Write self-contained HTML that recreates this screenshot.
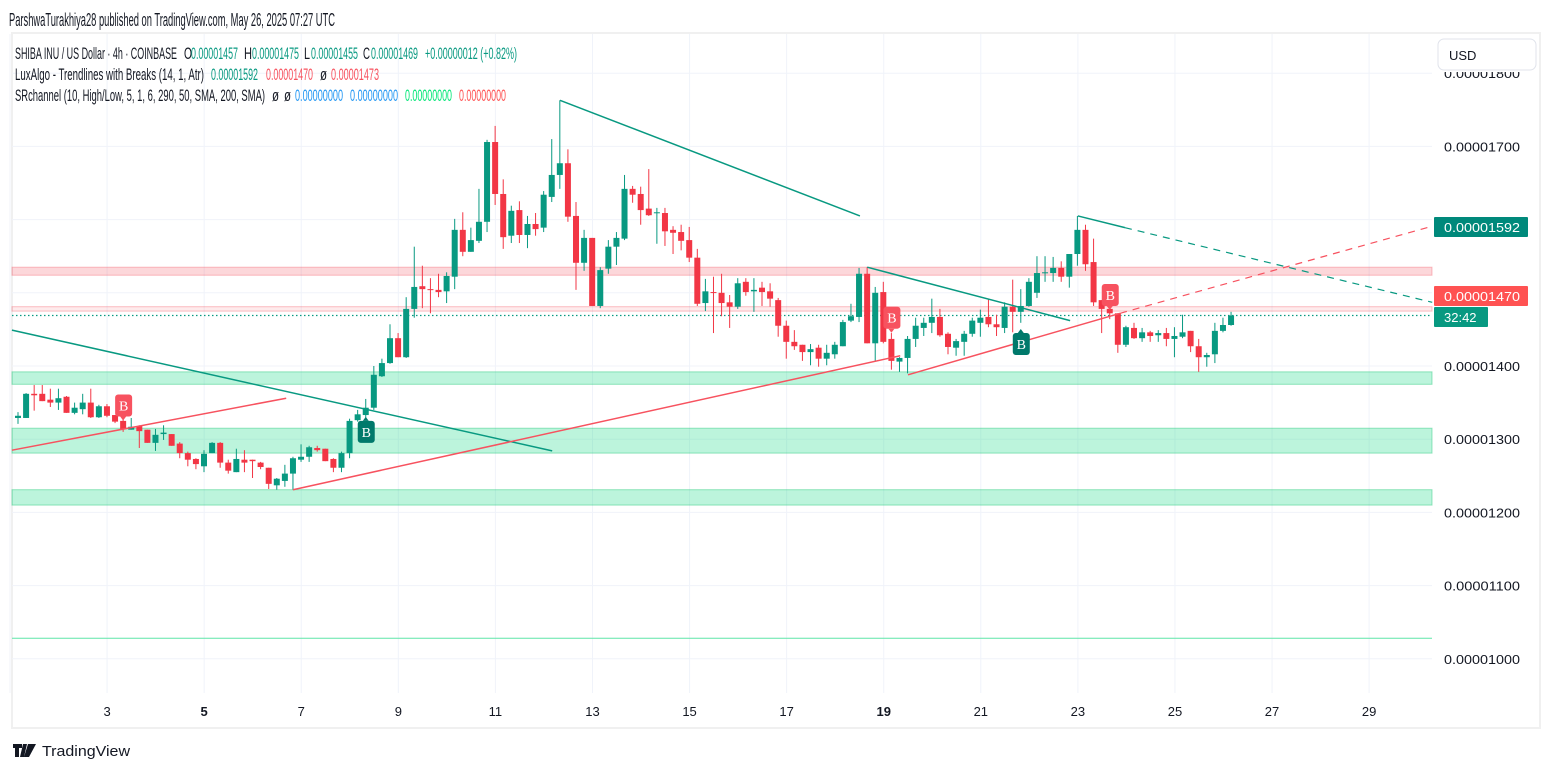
<!DOCTYPE html>
<html><head><meta charset="utf-8">
<style>
html,body{margin:0;padding:0;background:#fff;width:1553px;height:772px;overflow:hidden;font-family:"Liberation Sans",sans-serif;}
svg{display:block}
</style></head>
<body>
<svg id="chart" width="1553" height="772" xmlns="http://www.w3.org/2000/svg">
  <rect x="12" y="33" width="1528" height="695" fill="#fff" stroke="#f0f0f0" stroke-width="2"/>
  <g id="grid"></g>
  <g id="zones"></g>
  <g id="candles"></g>
  <g id="trend"></g>
  <g id="marks"></g>
  <g id="axis"></g>
  <g id="texts"></g>
</svg>
<script>
// ---- data (prices in 1e-8 USD) ----
const opens=[1329,1329,1362,1362,1354,1350,1358,1336,1341,1350,1330,1345,1333,1325,1313,1318,1313,1295,1307,1307,1294,1281,1273,1263,1281,1295,1268,1255,1272,1272,1268,1261,1237,1243,1253,1272,1276,1288,1287,1273,1261,1281,1326,1333,1343,1386,1404,1438,1412,1478,1509,1505,1504,1502,1522,1586,1556,1571,1597,1706,1635,1578,1613,1579,1594,1589,1631,1661,1677,1605,1541,1575,1482,1533,1563,1574,1642,1635,1615,1609,1609,1586,1583,1572,1548,1486,1501,1500,1487,1481,1515,1502,1507,1502,1490,1455,1433,1429,1419,1425,1410,1416,1427,1462,1467,1526,1431,1501,1437,1406,1411,1437,1452,1459,1467,1444,1425,1433,1444,1459,1467,1457,1452,1481,1474,1482,1500,1527,1527,1534,1522,1553,1586,1542,1490,1478,1472,1429,1452,1438,1446,1442,1445,1437,1440,1448,1427,1412,1416,1448,1456];
const highs=[1337,1363,1374,1374,1369,1369,1359,1350,1362,1369,1347,1348,1333,1330,1329,1319,1313,1314,1319,1307,1296,1283,1274,1285,1296,1296,1272,1287,1285,1272,1269,1261,1247,1265,1276,1293,1291,1291,1287,1274,1283,1328,1340,1355,1400,1410,1457,1445,1494,1563,1537,1520,1526,1528,1601,1610,1589,1642,1709,1728,1655,1619,1625,1605,1609,1639,1710,1763,1696,1624,1586,1575,1535,1572,1583,1661,1646,1645,1669,1616,1616,1591,1593,1590,1560,1519,1522,1526,1497,1520,1520,1520,1515,1513,1493,1462,1449,1429,1430,1429,1429,1433,1463,1485,1534,1535,1508,1515,1445,1412,1441,1466,1466,1492,1478,1446,1437,1448,1466,1477,1492,1470,1487,1518,1505,1520,1550,1550,1549,1543,1553,1605,1593,1574,1490,1478,1472,1455,1459,1452,1448,1449,1452,1453,1470,1448,1437,1418,1459,1466,1474];
const lows=[1321,1329,1339,1352,1344,1340,1336,1334,1334,1329,1329,1330,1322,1310,1313,1288,1295,1284,1299,1291,1274,1263,1259,1255,1281,1261,1253,1255,1255,1247,1259,1232,1231,1235,1231,1269,1269,1283,1270,1255,1255,1274,1324,1329,1340,1385,1403,1412,1411,1466,1479,1472,1494,1486,1505,1550,1556,1568,1583,1620,1560,1568,1568,1561,1578,1583,1624,1642,1597,1504,1530,1482,1479,1526,1538,1572,1623,1593,1605,1567,1564,1553,1558,1542,1482,1475,1445,1468,1452,1478,1496,1474,1482,1481,1440,1410,1422,1407,1401,1399,1401,1410,1427,1460,1460,1431,1406,1431,1395,1392,1390,1426,1441,1445,1440,1416,1414,1414,1440,1440,1453,1441,1445,1446,1459,1481,1493,1515,1515,1515,1507,1537,1530,1482,1445,1464,1418,1426,1437,1433,1433,1433,1427,1412,1438,1419,1392,1399,1404,1446,1455];
const closes=[1332,1362,1360,1352,1350,1356,1336,1343,1350,1330,1345,1332,1324,1314,1317,1311,1295,1306,1309,1291,1281,1272,1266,1280,1295,1268,1257,1273,1268,1270,1262,1239,1246,1253,1274,1276,1289,1285,1270,1261,1281,1325,1334,1343,1388,1404,1438,1412,1478,1508,1505,1504,1501,1523,1586,1556,1572,1597,1706,1635,1576,1612,1579,1594,1587,1634,1661,1677,1604,1541,1575,1482,1531,1563,1575,1642,1634,1613,1606,1610,1584,1582,1571,1548,1485,1502,1500,1486,1481,1513,1501,1504,1501,1492,1455,1433,1427,1419,1423,1410,1418,1429,1460,1468,1526,1431,1500,1433,1407,1411,1437,1455,1459,1467,1442,1426,1434,1444,1462,1466,1457,1453,1481,1474,1482,1515,1527,1528,1534,1522,1553,1586,1539,1487,1478,1472,1429,1453,1438,1446,1441,1445,1437,1441,1446,1427,1412,1415,1448,1456,1469];
const priceTicks=[1000,1100,1200,1300,1400,1500,1600,1700,1800];
const dayTicks=[1,3,5,7,9,11,13,15,17,19,21,23,25,27,29];
const dayLabels=["","3","5","7","9","11","13","15","17","19","21","23","25","27","29"];
const boldDays=[5,19];
const zoneTops=[1535,1481,1392,1315,1231];
const zoneBottoms=[1524,1475,1375,1281,1210];
const zoneKinds=["res","res2","sup","sup","sup"];
const supportLine=1028;
const trendD1=[1.04,12.33,18.66,23.0,1.04,6.83,19.5];
const trendP1=[1449,1763,1535,1605,1285,1231,1388];
const trendD2=[12.17,18.51,22.84,23.97,6.69,19.34,23.87];
const trendP2=[1284,1605,1462,1589,1356,1414,1472];
const trendColor=["up","up","up","up","dn","dn","dn"];
const extD=[30.3,30.3];
const extP=[1487,1591];
const extFromIdx=[3,6];
const markIdx=[13,43,108,124,135];
const markType=["red","green","red","green","red"];
const markPrice=[1346,1310,1466,1430,1497];
const lastPrice=1469;

function yS(p){return 366-(p-1400)*0.732;}
function xC(i){return 18+i*8.087;}
function xD(d){return 10+(d-1)*48.54;}
const NS="http://www.w3.org/2000/svg";
function mk(tag,parent,attrs){const e=document.createElementNS(NS,tag);for(const k in attrs)e.setAttribute(k,attrs[k]);document.getElementById(parent).appendChild(e);return e;}
const G="#089981",R="#f23645";

priceTicks.forEach(p=>{const y=yS(p);
 const l=mk('line','grid',{x1:12,x2:1432,y1:y,y2:y,stroke:'#f0f3fa','stroke-width':1});
 
 
});
dayTicks.forEach(d=>{const x=xD(d);
 const l=mk('line','grid',{x1:x,x2:x,y1:34,y2:693,stroke:'#f0f3fa','stroke-width':1});
 
 
});

zoneTops.forEach((t,i)=>{const y1=yS(t),y2=yS(zoneBottoms[i]);const k=zoneKinds[i];
 const fill=k==='sup'?'rgba(34,220,140,0.3)':(k==='res'?'rgba(242,54,69,0.2)':'rgba(242,54,69,0.1)');
 const st=k==='sup'?'rgba(34,200,120,0.45)':'rgba(242,54,69,0.3)';
 const r=mk('rect','zones',{x:12,y:y1,width:1420,height:y2-y1,fill:fill,stroke:st,'stroke-width':1});
 
 
});
const sl=mk('line','zones',{x1:12,x2:1432,y1:yS(supportLine),y2:yS(supportLine),stroke:'#5fe6a8','stroke-width':1});


const pl=mk('line','zones',{x1:12,x2:1432,y1:yS(lastPrice),y2:yS(lastPrice),stroke:G,'stroke-width':1.2,'stroke-dasharray':'1.5 2.5'});



opens.forEach((o,i)=>{const c=closes[i],h=highs[i],l=lows[i];const col=c>=o?G:R;const x=xC(i);
 const w=mk('line','candles',{x1:x,x2:x,y1:yS(h),y2:yS(l),stroke:col,'stroke-width':1});
 
 
 const top=yS(Math.max(o,c)),bot=yS(Math.min(o,c));
 const b=mk('rect','candles',{x:x-3,y:top,width:6,height:Math.max(1,bot-top),fill:col});
 
 
});

trendD1.forEach((d,i)=>{const col=trendColor[i]==='up'?'#089981':'#f7525f';
 const l=mk('line','trend',{x1:xD(d),y1:yS(trendP1[i]),x2:xD(trendD2[i]),y2:yS(trendP2[i]),stroke:col,'stroke-width':1.5});
 
 
});
extFromIdx.forEach((k,i)=>{const col=trendColor[k]==='up'?'#089981':'#f7525f';
 const l=mk('line','trend',{x1:xD(trendD2[k]),y1:yS(trendP2[k]),x2:xD(extD[i]),y2:yS(extP[i]),stroke:col,'stroke-width':1.2,'stroke-dasharray':'7 6'});
 
 
});

markIdx.forEach((ci,i)=>{const x=xC(ci),y=yS(markPrice[i]);const red=markType[i]==='red';
 const col=red?'#f7525f':'#00796b';
 const g=mk('g','marks',{});
 
 
 const r=document.createElementNS(NS,'rect');r.setAttribute('x',x-8);r.setAttribute('y',y-11);r.setAttribute('width',17);r.setAttribute('height',22);r.setAttribute('rx',3);r.setAttribute('fill',col);g.appendChild(r);
 const tri=document.createElementNS(NS,'polygon');
 tri.setAttribute('points',red?`${x-3},${y+11} ${x+3},${y+11} ${x},${y+15}`:`${x-3},${y-11} ${x+3},${y-11} ${x},${y-15}`);tri.setAttribute('fill',col);g.appendChild(tri);
 const t=document.createElementNS(NS,'text');t.setAttribute('x',x+0.5);t.setAttribute('y',y+5);t.setAttribute('text-anchor','middle');t.setAttribute('fill','#fff');t.setAttribute('font-size','14');t.setAttribute('font-family','"Liberation Serif",serif');t.textContent='B';g.appendChild(t);
});

function tx(parent,x,y,s,len,col,size,name,extra){const t=mk('text',parent,{x:x,y:y,fill:col,'font-size':size,'font-family':'"Liberation Sans",sans-serif'});
 if(len){t.setAttribute('textLength',len);t.setAttribute('lengthAdjust','spacingAndGlyphs');}
 if(extra)for(const k in extra)t.setAttribute(k,extra[k]);
 t.textContent=s;
 
 
 return t;}

priceTicks.forEach(p=>{if(p===1600||p===1500)return;const y=yS(p);tx('axis',1444,y+5,'0.000'+String(p).padStart(5,'0'),76,'#131722',13,'price-tick-label');});
dayTicks.forEach((d,i)=>{if(!dayLabels[i])return;tx('axis',xD(d),716,dayLabels[i],null,'#131722',13,'time-tick-label',{'text-anchor':'middle','font-weight':boldDays.includes(d)?'bold':'normal'});});
const cv=mk('rect','axis',{x:1432,y:34,width:106,height:38,fill:'#fff'});


const usd=mk('rect','axis',{x:1438,y:39,width:98,height:31,rx:6,fill:'#fff',stroke:'#e0e3eb'});


tx('axis',1449,60,'USD',null,'#131722',13,'currency-label');
function badge(y,w,col,s,name){const r=mk('rect','axis',{x:1434,y:y-10,width:w,height:20,fill:col,rx:1});
 
 
 tx('axis',1444,y+5,s,s.length>6?76:null,'#fff',13,name+'-text');}
badge(227,94,'#00897b','0.00001592','trend-up-price-badge');
badge(296,94,'#ff5252','0.00001470','trend-down-price-badge');
badge(317,54,'#089981','32:42','countdown-badge');

const FS=17;
tx('texts',9,26,'ParshwaTurakhiya28 published on TradingView.com, May 26, 2025 07:27 UTC',326,'#131722',18,'publish-info');
tx('texts',15,59,'SHIBA INU / US Dollar · 4h · COINBASE',162,'#131722',FS,'symbol-title');
tx('texts',184,59,'O',8,'#131722',FS,'open-label');
tx('texts',191,59,'0.00001457',47,G,FS,'open-value');
tx('texts',244,59,'H',8,'#131722',FS,'high-label');
tx('texts',252,59,'0.00001475',47,G,FS,'high-value');
tx('texts',304,59,'L',6,'#131722',FS,'low-label');
tx('texts',311,59,'0.00001455',47,G,FS,'low-value');
tx('texts',363,59,'C',7,'#131722',FS,'close-label');
tx('texts',371,59,'0.00001469',47,G,FS,'close-value');
tx('texts',425,59,'+0.00000012 (+0.82%)',92,G,FS,'change-value');
tx('texts',15,80,'LuxAlgo - Trendlines with Breaks (14, 1, Atr)',189,'#131722',FS,'indicator-luxalgo');
tx('texts',211,80,'0.00001592',47,G,FS,'luxalgo-upper');
tx('texts',266,80,'0.00001470',47,'#f7525f',FS,'luxalgo-lower');
tx('texts',320,80,'ø',7,'#131722',FS,'luxalgo-na');
tx('texts',331,80,'0.00001473',48,'#f7525f',FS,'luxalgo-value');
tx('texts',15,101,'SRchannel (10, High/Low, 5, 1, 6, 290, 50, SMA, 200, SMA)',250,'#131722',FS,'indicator-srchannel');
tx('texts',272,101,'ø',7,'#131722',FS,'sr-na-1');
tx('texts',284,101,'ø',7,'#131722',FS,'sr-na-2');
tx('texts',295,101,'0.00000000',48,'#2196f3',FS,'sr-value-1');
tx('texts',350,101,'0.00000000',48,'#2196f3',FS,'sr-value-2');
tx('texts',405,101,'0.00000000',47,'#00e676',FS,'sr-value-3');
tx('texts',459,101,'0.00000000',47,'#ff5252',FS,'sr-value-4');
const lg=mk('path','texts',{d:'M13 744h9v4h-3v9h-4v-9h-2z M23 744h4l-3 13h-4z M28 744h8l-7 13h-5z',fill:'#131722'});


tx('texts',42,756,'TradingView',88,'#131722',15,'tradingview-wordmark');
</script>
</body></html>
